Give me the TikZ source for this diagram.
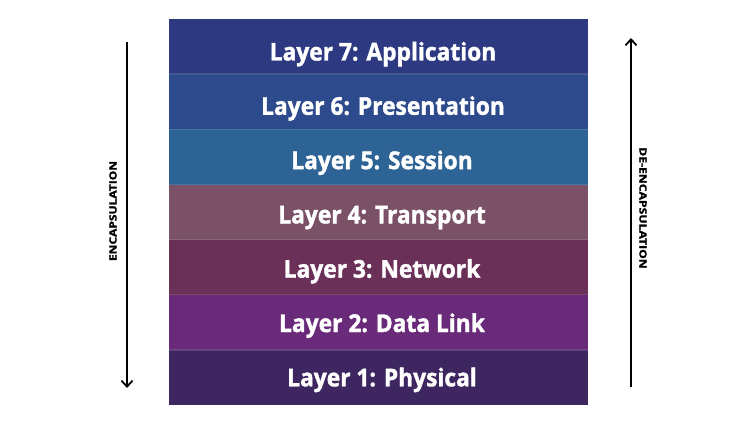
\documentclass[tikz,border=0pt]{standalone}
\usepackage{fontspec}
\setmainfont{Open Sans}[BoldFeatures={FakeBold=1.6}]
\usetikzlibrary{arrows.meta}
\definecolor{cL7}{HTML}{2D3A82}
\definecolor{cL6}{HTML}{2C4A8C}
\definecolor{cL5}{HTML}{2E6396}
\definecolor{cL4}{HTML}{7B5168}
\definecolor{cL3}{HTML}{6A3057}
\definecolor{cL2}{HTML}{6A2A7A}
\definecolor{cL1}{HTML}{3E2761}
\newcommand{\lyr}[1]{\scalebox{0.93}[1]{#1}}
\begin{document}
\begin{tikzpicture}[x=1pt,y=-1pt,
  layerbox/.style={rectangle,inner sep=0pt,minimum width=419pt,minimum height=55.2pt},
  layertext/.style={inner sep=0pt,text height=17pt,text depth=0pt,
    text=white,font=\fontsize{24.5}{26}\selectfont\bfseries},
  sep/.style={white,opacity=0.12,line width=1.2pt},
  sidelabel/.style={inner sep=0pt,font=\fontsize{10}{12}\selectfont\bfseries,text=black},
  flow/.style={line width=1.8pt,-{Straight Barb[length=6pt,width=11pt,line width=1.8pt]}}]
\useasboundingbox (0,0) rectangle (750,422);
\fill[white] (0,0) rectangle (750,422);
\node[layerbox,fill=cL7] (l7) at (378.5,46.6) {};
\node[layerbox,fill=cL6] (l6) at (378.5,101.8) {};
\node[layerbox,fill=cL5] (l5) at (378.5,157.0) {};
\node[layerbox,fill=cL4] (l4) at (378.5,212.2) {};
\node[layerbox,fill=cL3] (l3) at (378.5,267.4) {};
\node[layerbox,fill=cL2] (l2) at (378.5,322.6) {};
\node[layerbox,fill=cL1] (l1) at (378.5,377.8) {};
\foreach \n in {l6,l5,l4,l3,l2,l1}{
  \draw[sep] (\n.north west) -- (\n.north east);
}
\node[layertext] (t7) at (383,52) {\lyr{Layer 7: Application}};
\node[layertext] (t6) at (383,106.3) {\lyr{Layer 6: Presentation}};
\node[layertext] (t5) at (382,160.6) {\lyr{Layer 5: Session}};
\node[layertext] (t4) at (382,214.9) {\lyr{Layer 4: Transport}};
\node[layertext] (t3) at (382,269.2) {\lyr{Layer 3: Network}};
\node[layertext] (t2) at (382,323.5) {\lyr{Layer 2: Data Link}};
\node[layertext] (t1) at (382,377.8) {\lyr{Layer 1: Physical}};
\coordinate (encTop) at (127,42);
\coordinate (encBot) at (127,388);
\coordinate (decBot) at (631,387);
\coordinate (decTop) at (631,38);
\draw[flow] (encTop) -- (encBot);
\draw[flow] (decBot) -- (decTop);
\node[sidelabel,rotate=90] (enc) at (113,211) {\scalebox{1.2}[1]{ENCAPSULATION}};
\node[sidelabel,rotate=-90] (dec) at (643,208) {\scalebox{1.22}[1]{DE-ENCAPSULATION}};
\end{tikzpicture}
\end{document}
